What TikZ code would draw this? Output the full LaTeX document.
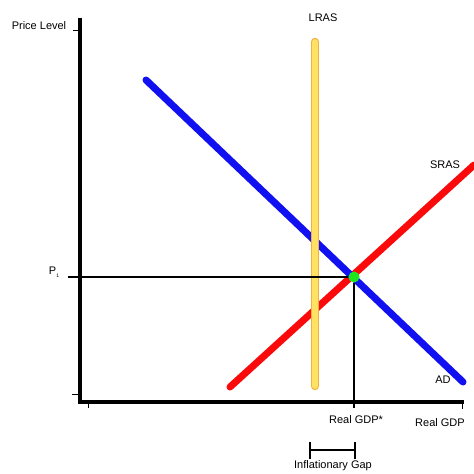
\documentclass[tikz,border=0pt]{standalone}
\usepackage{fontspec}
\setmainfont{Liberation Sans}
\definecolor{adblue}{RGB}{16,16,240}
\definecolor{srasred}{RGB}{250,10,10}
\definecolor{lrasyellow}{RGB}{255,226,100}
\definecolor{lrasedge}{RGB}{240,176,60}
\definecolor{eqgreen}{RGB}{30,230,30}
\tikzset{
  lbl/.style={inner sep=0pt, font=\fontsize{11}{12}\selectfont},
  axis/.style={line width=4.5pt},
  tick/.style={line width=1pt},
  curve/.style={line width=7pt, line cap=round},
}
\begin{document}
\begin{tikzpicture}[x=1pt,y=-1pt]
\useasboundingbox[fill=white] (0,0) rectangle (474,474);
% axes
\coordinate (top) at (80,20);
\coordinate (origin) at (80,402);
\coordinate (right) at (462,402);
\draw[axis, line cap=rect] (top) -- (origin) -- (right);
\draw[tick] (73,30) -- (80,30);
\draw[tick] (72,394) -- (80,394);
\draw[tick] (88,402) -- (88,408);
\draw[tick] (462,402) -- (462,409);
\node[lbl] (pl) at (39,26) {Price Level};
\node[lbl] (rgdp) at (440,423) {Real GDP};
% curves
\draw[curve, srasred] (230,387) -- (474,165);
\draw[curve, adblue] (146,80) -- (463,382);
\draw[line width=8.5pt, line cap=round, lrasedge] (315,42) -- (315,386);
\draw[line width=6pt, line cap=round, lrasyellow] (315,42) -- (315,386);
\node[lbl] (lras) at (323,18) {LRAS};
\node[lbl] (sras) at (445,165) {SRAS};
\node[lbl] (ad) at (443,380) {AD};
% equilibrium
\node[circle, fill=eqgreen, inner sep=0pt, minimum size=11pt] (e) at (354,277) {};
\node[lbl] (p1) at (54,272) {P\raisebox{-2.5pt}{\fontsize{5}{5}\selectfont 1}};
\coordinate (p1t) at (68,277);
\coordinate (gdpt) at (354,408);
\draw[line width=1.6pt] (p1t) -- (e.west);
\draw[line width=1.6pt] (e.south) -- (gdpt);
\node[lbl] (gdps) at (356,420) {Real GDP*};
% gap
\coordinate (gl) at (310,450);
\coordinate (gr) at (355,450);
\draw[line width=1.6pt] (gl) -- (gr);
\draw[line width=1.6pt] ([yshift=-9pt]gl) -- ([yshift=8pt]gl);
\draw[line width=1.6pt] ([yshift=-9pt]gr) -- ([yshift=8pt]gr);
\node[lbl] (gap) at (333,466) {Inflationary Gap};
\end{tikzpicture}
\end{document}
